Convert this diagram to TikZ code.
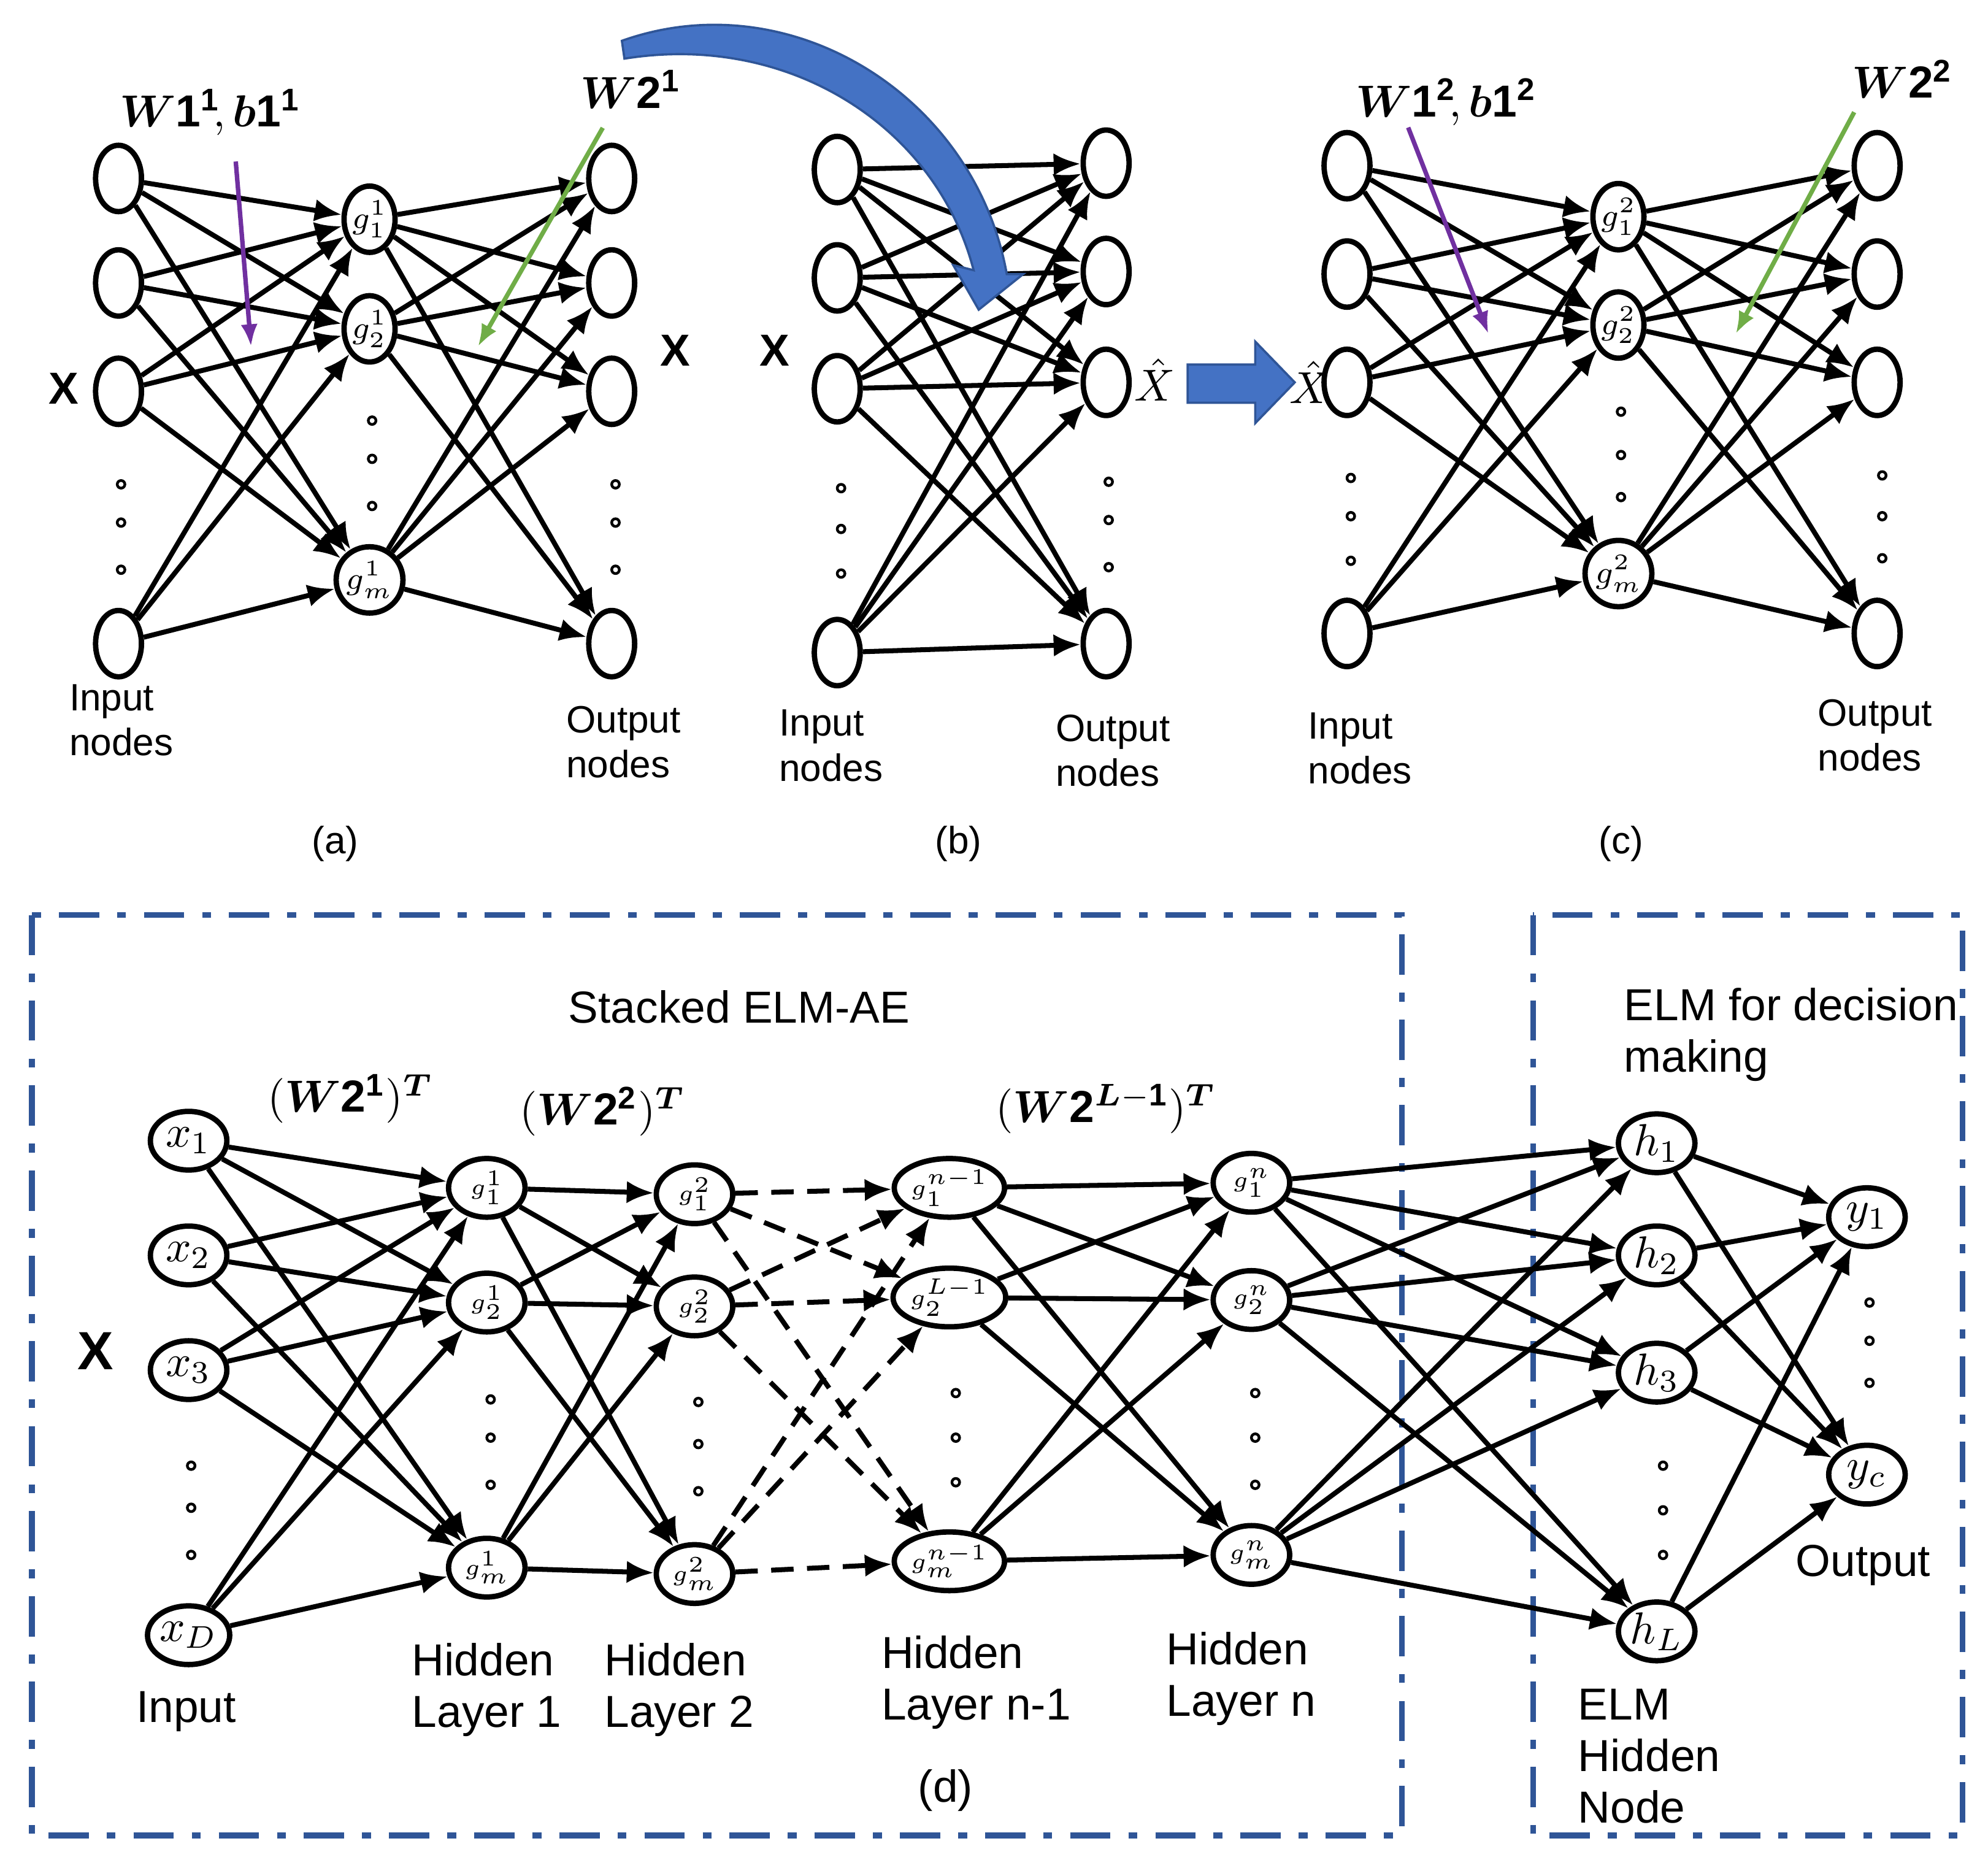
\documentclass[tikz,border=0pt]{standalone}
\usepackage{amsmath,amssymb,bm}
\usepackage{fontspec}
\setmainfont{Liberation Sans}
\usetikzlibrary{shapes.geometric,arrows.meta}
\definecolor{elmblue}{HTML}{4472C4}
\definecolor{boxblue}{HTML}{2F5597}
\definecolor{wpurple}{HTML}{7030A0}
\definecolor{wgreen}{HTML}{70AD47}
\tikzset{round/.style={ellipse, draw=black, line width=1.2pt, minimum width=0.36cm, minimum height=0.52cm, inner sep=0pt}}
\tikzset{hround/.style={ellipse, draw=black, line width=1.2pt, minimum width=0.6cm, minimum height=0.46cm, inner sep=0pt}}
\tikzset{gnode/.style={hround, font=\tiny}}
\tikzset{arrow/.style={-{Latex[length=6pt,width=5pt]}, line width=1.1pt}}
\tikzset{dashed-arrow/.style={arrow, dash pattern=on 5pt off 3pt}}
\tikzset{dot/.style={circle, draw=black, line width=0.6pt, inner sep=0pt, minimum size=0.06cm}}
\tikzset{lbl/.style={align=left, font=\fontsize{8.5}{10}\selectfont}}
\tikzset{dlbl/.style={align=left, font=\fontsize{10}{11.5}\selectfont}}
\tikzset{frame/.style={draw=boxblue, line width=1.3pt, dash pattern=on 9pt off 4pt on 2pt off 4pt}}

\begin{document}
\begin{tikzpicture}[x=0.01cm, y=-0.01cm]
  \useasboundingbox (0,0) rectangle (1560,1459);

  % (a)
  \foreach \i/\y in {1/140, 2/222, 3/307, 4/505} {
    \node[round] (ia\i) at (93,\y) {};
    \node[round] (oa\i) at (480,\y) {};
  }
  \node[round, font=\scriptsize] (ha1) at (290,172) {$g^1_1$};
  \node[round, font=\scriptsize] (ha2) at (290,258) {$g^1_2$};
  \node[round, font=\scriptsize] (ha3) at (290,455) {$g^1_m$};
  \foreach \i in {1,...,4} \foreach \j in {1,2,3} \draw[arrow] (ia\i) -- (ha\j);
  \foreach \j in {1,2,3} \foreach \i in {1,...,4} \draw[arrow] (ha\j) -- (oa\i);
  \foreach \y in {380,410,447} {
    \node[dot] at (95,\y) {};
    \node[dot] at (483,\y) {};
  }
  \foreach \y in {330,360,397} \node[dot] at (292,\y) {};
  \node[font=\bfseries] (xa) at (50,305) {X};
  \node[font=\bfseries] (xa2) at (530,275) {X};
  \node (w1a) at (165,88) {$\bm{W}\mathbf{1}^{\mathbf{1}}\!,\bm{b}\mathbf{1}^{\mathbf{1}}$};
  \node (w2a) at (495,70) {$\bm{W}\mathbf{2}^{\mathbf{1}}$};
  \draw[-{Latex[length=5pt]}, wpurple, line width=1pt] (w1a.south) ++(20,8) -- (197,272);
  \draw[-{Latex[length=5pt]}, wgreen, line width=1pt] (w2a.south) ++(-22,3) -- (375,272);
  \node[lbl, anchor=west] (ina) at (42,565) {Input\\nodes};
  \node[lbl, anchor=west] (outa) at (432,582) {Output\\nodes};
  \node[lbl] (capa) at (263,662) {(a)};

  % (b)
  \foreach \i/\y/\z in {1/133/128, 2/218/213, 3/305/300, 4/512/505} {
    \node[round] (ib\i) at (657,\y) {};
    \node[round] (ob\i) at (868,\z) {};
  }
  \foreach \i in {1,...,4} \foreach \j in {1,...,4} \draw[arrow] (ib\i) -- (ob\j);
  \foreach \y/\z in {383/378, 415/408, 450/445} {
    \node[dot] at (660,\y) {};
    \node[dot] at (870,\z) {};
  }
  \node[font=\bfseries] (xb) at (608,275) {X};
  \node (xhb) at (906,298) {$\hat{X}$};
  \node[lbl, anchor=west] (inb) at (599,585) {Input\\nodes};
  \node[lbl, anchor=west] (outb) at (816,589) {Output\\nodes};
  \node[lbl] (capb) at (752,662) {(b)};
  % curved transfer arrow
  \fill[elmblue, draw=boxblue, line width=0.5pt] (488,32) .. controls (620,-15) and (765,75) .. (790,215)
    -- (803,215) -- (768,243) -- (748,208) -- (764,212)
    .. controls (735,100) and (620,25) .. (490,46) -- cycle;
  % block arrow
  \fill[elmblue, draw=boxblue, line width=0.5pt] (932,286) -- (985,286) -- (985,268) -- (1016,300)
    -- (985,332) -- (985,316) -- (932,316) -- cycle;

  % (c)
  \foreach \i/\y in {1/130, 2/215, 3/300, 4/497} {
    \node[round] (ic\i) at (1057,\y) {};
    \node[round] (oc\i) at (1473,\y) {};
  }
  \node[round, font=\scriptsize] (hc1) at (1270,170) {$g^2_1$};
  \node[round, font=\scriptsize] (hc2) at (1270,255) {$g^2_2$};
  \node[round, font=\scriptsize] (hc3) at (1270,450) {$g^2_m$};
  \foreach \i in {1,...,4} \foreach \j in {1,2,3} \draw[arrow] (ic\i) -- (hc\j);
  \foreach \j in {1,2,3} \foreach \i in {1,...,4} \draw[arrow] (hc\j) -- (oc\i);
  \foreach \y/\z in {375/373, 405/405, 440/438} {
    \node[dot] at (1060,\y) {};
    \node[dot] at (1477,\z) {};
  }
  \foreach \y in {323,357,390} \node[dot] at (1272,\y) {};
  \node (xhc) at (1028,300) {$\hat{X}$};
  \node (w1c) at (1135,80) {$\bm{W}\mathbf{1}^{\mathbf{2}}\!,\bm{b}\mathbf{1}^{\mathbf{2}}$};
  \node (w2c) at (1493,62) {$\bm{W}\mathbf{2}^{\mathbf{2}}$};
  \draw[-{Latex[length=5pt]}, wpurple, line width=1pt] (1105,100) -- (1168,262);
  \draw[-{Latex[length=5pt]}, wgreen, line width=1pt] (1455,88) -- (1362,262);
  \node[lbl, anchor=west] (inc) at (1014,587) {Input\\nodes};
  \node[lbl, anchor=west] (outc) at (1414,577) {Output\\nodes};
  \node[lbl] (capc) at (1272,662) {(c)};

  % (d)
  \draw[frame] (25,718) rectangle (1100,1440);
  \draw[frame] (1203,718) rectangle (1540,1440);
  \node[dlbl] (stk) at (580,790) {Stacked ELM-AE};
  \node[dlbl, anchor=west] (dec) at (1262,812) {ELM for decision\\making};

  \node[hround] (x1) at (148,895) {$x_1$};
  \node[hround] (x2) at (148,985) {$x_2$};
  \node[hround] (x3) at (148,1075) {$x_3$};
  \node[hround] (x4) at (148,1283) {$x_D$};
  \node[gnode] (p1) at (382,932) {$g^1_1$};
  \node[gnode] (p2) at (382,1022) {$g^1_2$};
  \node[gnode] (p3) at (382,1230) {$g^1_m$};
  \node[gnode] (q1) at (545,937) {$g^2_1$};
  \node[gnode] (q2) at (545,1025) {$g^2_2$};
  \node[gnode] (q3) at (545,1235) {$g^2_m$};
  \node[gnode] (r1) at (745,932) {$g^{n-1}_1$};
  \node[gnode] (r2) at (745,1018) {$g^{L-1}_2$};
  \node[gnode] (r3) at (745,1225) {$g^{n-1}_m$};
  \node[gnode] (s1) at (982,928) {$g^n_1$};
  \node[gnode] (s2) at (982,1020) {$g^n_2$};
  \node[gnode] (s3) at (982,1220) {$g^n_m$};
  \node[hround] (e1) at (1300,897) {$h_1$};
  \node[hround] (e2) at (1300,985) {$h_2$};
  \node[hround] (e3) at (1300,1077) {$h_3$};
  \node[hround] (e4) at (1300,1280) {$h_L$};
  \node[hround] (y1) at (1465,955) {$y_1$};
  \node[hround] (y2) at (1465,1157) {$y_c$};

  \foreach \i in {1,...,4} \foreach \j in {1,2,3} \draw[arrow] (x\i) -- (p\j);
  \foreach \i in {1,2,3} \foreach \j in {1,2,3} {
    \draw[arrow] (p\i) -- (q\j);
    \draw[dashed-arrow] (q\i) -- (r\j);
    \draw[arrow] (r\i) -- (s\j);
  }
  \foreach \i in {1,2,3} \foreach \j in {1,...,4} \draw[arrow] (s\i) -- (e\j);
  \foreach \i in {1,...,4} \foreach \j in {1,2} \draw[arrow] (e\i) -- (y\j);

  \foreach \x/\ya/\yb/\yc in {150/1150/1183/1220, 385/1098/1128/1165, 548/1100/1133/1170,
    750/1093/1128/1163, 985/1093/1128/1165, 1305/1150/1185/1220, 1467/1022/1052/1085} {
    \node[dot] at (\x,\ya) {};
    \node[dot] at (\x,\yb) {};
    \node[dot] at (\x,\yc) {};
  }

  \node[font=\bfseries\large] (xd) at (75,1060) {X};
  \node (wt1) at (275,862) {$(\bm{W}\mathbf{2}^{\mathbf{1}})^{\bm{T}}$};
  \node (wt2) at (473,872) {$(\bm{W}\mathbf{2}^{\mathbf{2}})^{\bm{T}}$};
  \node (wt3) at (868,870) {$(\bm{W}\mathbf{2}^{\bm{L}\mathbf{-1}})^{\bm{T}}$};

  \node[dlbl] (inp) at (146,1343) {Input};
  \node[dlbl] (hl1) at (382,1326) {Hidden\\Layer 1};
  \node[dlbl] (hl2) at (533,1326) {Hidden\\Layer 2};
  \node[dlbl] (hl3) at (766,1320) {Hidden\\Layer n-1};
  \node[dlbl] (hl4) at (974,1317) {Hidden\\Layer n};
  \node[dlbl, anchor=west] (ehn) at (1226,1378) {ELM\\Hidden\\Node};
  \node[dlbl] (outd) at (1462,1228) {Output};
  \node[dlbl] (capd) at (742,1405) {(d)};
\end{tikzpicture}
\end{document}
